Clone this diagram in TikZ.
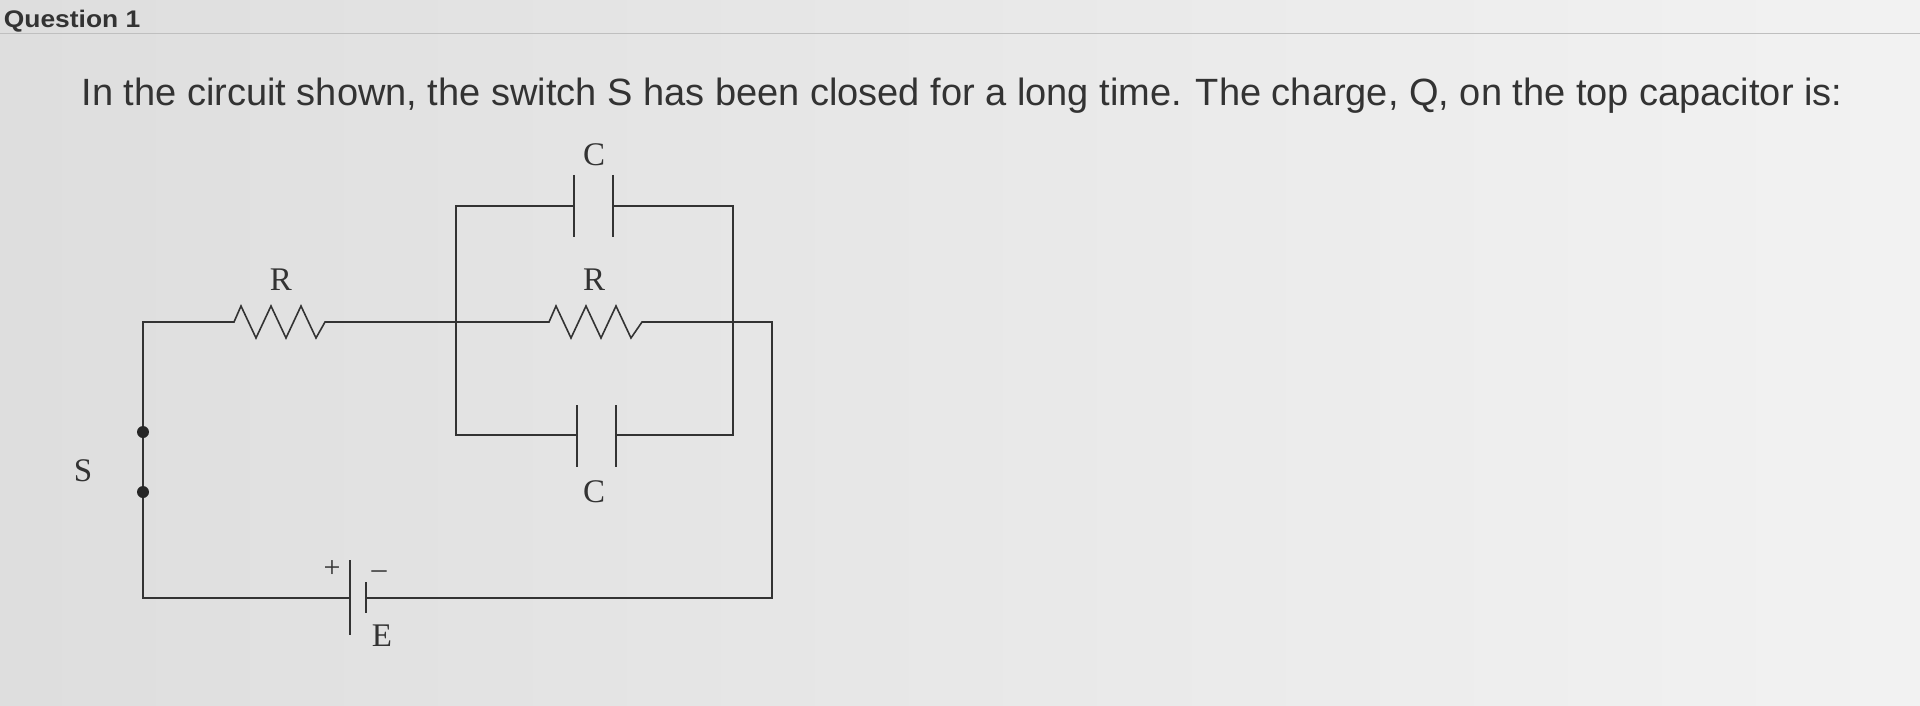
\documentclass[tikz,border=0pt]{standalone}
\usepackage{fontspec}
\setmainfont{Liberation Serif}
\newfontfamily\arialf{Liberation Sans}
\begin{document}
\begin{tikzpicture}[x=1pt,y=-1pt,
  wire/.style={line width=1.6pt,color=black!80,line join=miter},
  lbl/.style={font=\fontsize{33}{33}\selectfont,text=black!80,inner sep=0pt}]
\shade[left color=black!13,right color=black!5] (0,0) rectangle (1920,706);
\useasboundingbox (0,0) rectangle (1920,706);
\draw[black!25,line width=1pt] (0,34) -- (1920,34);
\node[anchor=west,font=\arialf\bfseries\fontsize{24}{24}\selectfont,text=black!80,xscale=1.1] (q) at (0,21) {Question 1};
\node[anchor=west,font=\arialf\fontsize{38}{40}\selectfont,text=black!80] (t) at (78,96) {In the circuit shown, the switch S has been closed for a long time. The charge, Q, on the top capacitor is:};
% coordinates
\coordinate (tl) at (143,322);
\coordinate (bl) at (143,598);
\coordinate (br) at (772,598);
\coordinate (tr) at (772,322);
\coordinate (j) at (456,322);
\coordinate (bxtl) at (456,206);
\coordinate (bxtr) at (733,206);
\coordinate (bxbl) at (456,435);
\coordinate (bxbr) at (733,435);
\coordinate (s1) at (143,432);
\coordinate (s2) at (143,492);
% left resistor
\draw[wire] (s1) -- (tl) -- (234,322) -- (241,306) -- (256,338) -- (271,306) -- (286,338) -- (301,306) -- (316,338) -- (325,322) -- (j);
% middle resistor
\draw[wire] (j) -- (549,322) -- (556,306) -- (571,338) -- (586,306) -- (601,338) -- (616,306) -- (631,338) -- (642,322) -- (tr) -- (br) -- (366,598);
\draw[wire] (350,598) -- (bl) -- (s2);
% battery
\draw[wire] (350,560) -- (350,635);
\draw[wire] (366,582) -- (366,613);
\node[lbl,font=\fontsize{30}{30}\selectfont] (plus) at (332,569) {+};
\node[lbl,font=\fontsize{30}{30}\selectfont] (minus) at (379,575) {--};
\node[lbl] (E) at (382,636) {E};
% switch
\draw[wire] (s1) -- (s2);
\fill[black!85] (s1) circle (6pt) (s2) circle (6pt);
\node[lbl] (S) at (83,471) {S};
% box
\draw[wire] (574,206) -- (bxtl) -- (bxbl) -- (577,435);
\draw[wire] (613,206) -- (bxtr) -- (bxbr) -- (616,435);
\draw[wire] (574,175) -- (574,237);
\draw[wire] (613,175) -- (613,237);
\draw[wire] (577,405) -- (577,467);
\draw[wire] (616,405) -- (616,467);
\node[lbl] (C1) at (594,155) {C};
\node[lbl] (C2) at (594,492) {C};
\node[lbl] (R1) at (281,280) {R};
\node[lbl] (R2) at (594,280) {R};
\end{tikzpicture}
\end{document}
